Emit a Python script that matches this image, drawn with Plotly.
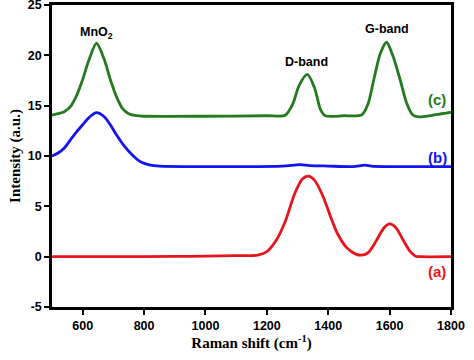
import plotly.graph_objects as go

# Curve (a) - red
a_x = [500, 700, 900, 1000, 1100, 1170, 1200, 1230, 1260, 1290, 1315, 1335, 1355, 1380, 1405, 1430, 1460, 1490, 1510, 1530, 1555, 1580, 1600, 1620, 1645, 1665, 1685, 1700, 1800]
a_y = [0.0, 0.0, 0.02, 0.05, 0.1, 0.15, 0.5, 1.6, 3.5, 6.2, 7.7, 8.0, 7.6, 6.2, 4.2, 2.3, 0.9, 0.25, 0.15, 0.4, 1.5, 2.8, 3.25, 2.9, 1.6, 0.6, 0.05, 0.0, 0.0]

# Curve (b) - blue
b_x = [500, 520, 540, 560, 580, 600, 620, 645, 670, 690, 710, 735, 765, 790, 820, 850, 1000, 1100, 1250, 1290, 1310, 1340, 1400, 1480, 1520, 1540, 1600, 1800]
b_y = [10.0, 10.3, 10.8, 11.6, 12.4, 13.1, 13.8, 14.3, 13.9, 13.1, 12.1, 11.0, 10.0, 9.4, 9.1, 9.0, 8.95, 8.95, 9.0, 9.1, 9.15, 9.05, 9.0, 8.95, 9.1, 9.0, 8.95, 8.95]

# Curve (c) - green
c_x = [500, 520, 540, 560, 580, 600, 620, 645, 670, 690, 710, 730, 750, 775, 800, 1000, 1200, 1260, 1285, 1305, 1332, 1355, 1375, 1390, 1450, 1510, 1530, 1550, 1570, 1590, 1610, 1635, 1655, 1675, 1690, 1750, 1800]
c_y = [14.05, 14.2, 14.4, 14.9, 16.0, 17.6, 19.5, 21.2, 19.6, 17.6, 15.9, 14.7, 14.2, 14.0, 13.95, 13.95, 14.0, 14.05, 15.2, 17.0, 18.1, 16.8, 14.6, 14.0, 14.0, 14.1, 15.2, 17.8, 20.2, 21.3, 20.0, 17.5, 15.3, 14.1, 13.9, 14.1, 14.35]

x_ticks = [600, 800, 1000, 1200, 1400, 1600, 1800]
y_ticks = [-5, 0, 5, 10, 15, 20, 25]
y_tick_text = ["-5", "0", "5", "10", "15", "20", "25"]

peak_labels = ["MnO<sub>2</sub>", "D-band", "G-band"]
peak_x = [645, 1330, 1590]
peak_y = [22.2, 19.3, 22.6]

curve_labels = ["(a)", "(b)", "(c)"]
curve_label_y = [-1.5, 9.9, 15.6]
curve_colors = ["#e8141c", "#1414f0", "#247a1e"]

fig = go.Figure()
for xs, ys, col in [(a_x, a_y, curve_colors[0]), (b_x, b_y, curve_colors[1]), (c_x, c_y, curve_colors[2])]:
    fig.add_trace(go.Scatter(x=xs, y=ys, mode="lines",
                             line=dict(color=col, width=2.8, shape="spline", smoothing=0.8),
                             showlegend=False))

for t, x, y in zip(peak_labels, peak_x, peak_y):
    fig.add_annotation(x=x, y=y, text=t, showarrow=False,
                       font=dict(family="Liberation Sans", size=12.5, color="black", weight="bold"))

for t, y, col in zip(curve_labels, curve_label_y, curve_colors):
    fig.add_annotation(x=1755, y=y, text=t, showarrow=False,
                       font=dict(family="Liberation Sans", size=15, color=col, weight="bold"))

axis_common = dict(showgrid=False, zeroline=False, showline=True, linecolor="black",
                   linewidth=2.5, mirror=True, ticks="outside", ticklen=5, tickwidth=2,
                   tickcolor="black", automargin=False, ticklabeloverflow="allow",
                   tickfont=dict(family="Liberation Sans", size=12.5, color="black", weight="bold"))

fig.update_xaxes(range=[500, 1800], tickvals=x_ticks,
                 title=dict(text="Raman shift (cm<sup>-1</sup>)", standoff=6,
                            font=dict(family="Liberation Serif", size=15, color="black", weight="bold")),
                 **axis_common)
fig.update_yaxes(range=[-5, 25], tickvals=y_ticks, ticktext=y_tick_text,
                 title=dict(text="Intensity (a.u.)", standoff=4,
                            font=dict(family="Liberation Serif", size=15, color="black", weight="bold")),
                 **axis_common)

fig.update_layout(width=474, height=360, margin=dict(l=52, r=23, t=5, b=53),
                  plot_bgcolor="white", paper_bgcolor="white")

fig.write_html("out.html", config={"displayModeBar": False},
               post_script="document.body.style.margin='0px';")
